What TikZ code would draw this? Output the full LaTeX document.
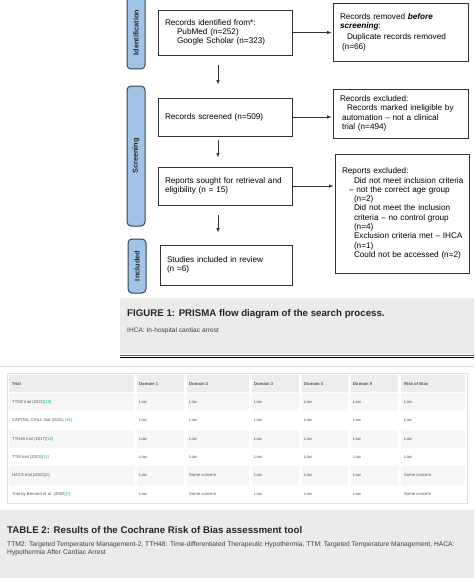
\documentclass[tikz,border=0pt]{standalone}
\usepackage{fontspec}
\setmainfont{Liberation Sans}
\usetikzlibrary{arrows,arrows.meta}
\usetikzlibrary{calc}
\definecolor{phaseblue}{RGB}{160,196,232}
\definecolor{phaseedge}{RGB}{52,66,84}
\definecolor{boxedge}{RGB}{51,51,51}
\definecolor{capgray}{RGB}{235,235,235}
\definecolor{headgray}{RGB}{237,237,237}
\definecolor{rowgray}{RGB}{246,246,246}
\definecolor{rulegray}{RGB}{224,224,224}
\definecolor{celltext}{RGB}{85,85,85}
\definecolor{reflink}{RGB}{40,168,158}
\colorlet{captext}{black!75}

\tikzset{
  prisma/.style={draw=boxedge, line width=0.8pt, align=left, inner xsep=7pt, inner ysep=0pt,
    font=\fontsize{8.2}{9.3}\selectfont},
  phase/.style={draw=phaseedge, fill=phaseblue, line width=1pt, rounded corners=4pt, rotate=90,
    minimum height=18pt, inner sep=0pt, text=black!85, font=\bfseries\fontsize{7.3}{8}\selectfont},
  flow/.style={-latex, line width=0.6pt, boxedge},
  cell/.style={anchor=base west, inner sep=0pt, text=celltext, font=\fontsize{4.2}{5}\selectfont},
  cellhead/.style={cell, font=\bfseries\fontsize{4.2}{5}\selectfont}
}

\begin{document}
\begin{tikzpicture}[x=1pt, y=-1pt]

    \useasboundingbox (0,0) rectangle (474,578);

    \node[phase, minimum width=73pt] (idlabel) at (136,32.5) {Identification};
    \node[phase, minimum width=140pt] (screenlabel) at (136,156) {Screening};
    \node[phase, minimum width=54pt] (incllabel) at (137,266) {Included};

    \node[prisma, text width=120pt, minimum height=45pt] (ident) at (225,32.5)
        {Records identified from*:\\ \hspace*{12pt}PubMed (n=252)\\ \hspace*{12pt}Google Scholar (n=323)};
    \node[prisma, text width=120pt, minimum height=38pt] (screen) at (225,117)
        {Records screened (n=509)};
    \node[prisma, text width=120pt, minimum height=38pt] (sought) at (225,186)
        {Reports sought for retrieval and\\ eligibility (n = 15)};
    \node[prisma, text width=118pt, minimum height=40pt] (incl) at (226,265)
        {Studies included in review\\ (n =6)};

    \node[prisma, text width=121pt, minimum height=58pt] (removed) at (400.5,32)
        {Records removed \textbf{\textit{before}}\\ \textbf{\textit{screening}}:\\[2pt]
         \hspace*{7pt}Duplicate records removed\\ \hspace*{2pt}(n=66)};
    \node[prisma, text width=121pt, minimum height=49pt] (excluded) at (400.5,113.5)
        {Records excluded:\\ \hspace*{7pt}\mbox{Records marked ineligible by}\\
         \hspace*{2pt}\mbox{automation -- not a clinical}\\ \hspace*{2pt}trial (n=494)};
    \node[prisma, text width=120pt, minimum height=119pt] (repexcl) at (402,213.5)
        {Reports excluded:\\ \hspace*{12pt}\mbox{Did not meet inclusion criteria}\\
         \hspace*{7pt}\mbox{-- not the correct age group}\\ \hspace*{12pt}(n=2)\\
         \hspace*{12pt}\mbox{Did not meet the inclusion}\\ \hspace*{12pt}\mbox{criteria -- no control group}\\
         \hspace*{12pt}(n=4)\\ \hspace*{12pt}\mbox{Exclusion criteria met -- IHCA}\\
         \hspace*{12pt}(n=1)\\ \hspace*{12pt}\mbox{Could not be accessed (n=2)}};

    \coordinate (arrowcol) at (218,0);
    \draw[flow, shorten <=10pt, shorten >=13pt] (ident.south -| arrowcol) -- (screen.north -| arrowcol);
    \draw[flow, shorten <=4pt, shorten >=9pt] (screen.south -| arrowcol) -- (sought.north -| arrowcol);
    \draw[flow, shorten <=10pt, shorten >=12pt] (sought.south -| arrowcol) -- (incl.north -| arrowcol);
    \draw[flow, shorten >=1pt] (ident.east) -- (ident.east -| removed.west);
    \draw[flow, shorten >=1pt] (screen.east) -- (screen.east -| excluded.west);
    \draw[flow, shorten >=1pt] (sought.east) -- (sought.east -| repexcl.west);

    \fill[capgray] (120,298) rectangle (474,354);
    \draw[black!65, line width=0.8pt] (120,355) -- (474,355);
    \draw[black, line width=1.2pt] (120,357.5) -- (474,357.5);
    \node[anchor=base west, inner sep=0pt, text=black!85, font=\bfseries\fontsize{9.7}{11}\selectfont]
        (figtitle) at (127,316.5) {FIGURE 1: PRISMA flow diagram of the search process.};
    \node[anchor=base west, inner sep=0pt, text=captext, font=\fontsize{6.6}{8}\selectfont]
        (fignote) at (127,332.5) {IHCA: In-hospital cardiac arrest};

    \draw[rulegray, line width=1pt] (0,366) -- (474,366);

    \draw[rulegray, line width=0.8pt] (7,373) rectangle (467,503);
    \foreach \xa/\xb in {9/134, 137/184, 187/249, 252/299, 302/348, 351/398, 401/465}
        \fill[headgray] (\xa,375) rectangle (\xb,392);
    \node[cellhead] (hdtrial) at (12,385) {Trial};
    \node[cellhead] (hdone) at (139,385) {Domain 1};
    \node[cellhead] (hdtwo) at (189,385) {Domain 2};
    \node[cellhead] (hdthree) at (254,385) {Domain 3};
    \node[cellhead] (hdfour) at (304,385) {Domain 4};
    \node[cellhead] (hdfive) at (353,385) {Domain 5};
    \node[cellhead] (hdbias) at (404,385) {Risk of Bias};

    \foreach \trial/\refno/\dtwo/\bias [count=\r] in {TTM2 trial (2021)/10/Low/Low,
        CAPITAL CHILL trial (2021) /16/Low/Low, TTH48 trial (2017)/12/Low/Low,
        TTM trial (2013)/11/Low/Low, HACA trial (2002)/8/Some concern/Some concern,
        Trial by Bernard et al. (2002)/7/Some concern/Some concern}{
        \pgfmathsetmacro{\rtop}{393+18.3*(\r-1)}
        \ifodd\r
            \foreach \xa/\xb in {9/134, 137/184, 187/249, 252/299, 302/348, 351/398, 401/465}
                \fill[rowgray] (\xa,\rtop) rectangle (\xb,\rtop+18.3);
        \fi
        \node[cell] (trial-\r) at (12,\rtop+10.6) {\trial\textcolor{reflink}{[\refno]}};
        \node[cell] (done-\r) at (139,\rtop+10.6) {Low};
        \node[cell] (dtwo-\r) at (189,\rtop+10.6) {\dtwo};
        \node[cell] (dthree-\r) at (254,\rtop+10.6) {Low};
        \node[cell] (dfour-\r) at (304,\rtop+10.6) {Low};
        \node[cell] (dfive-\r) at (353,\rtop+10.6) {Low};
        \node[cell] (bias-\r) at (404,\rtop+10.6) {\bias};
    }

    \fill[capgray] (0,510) rectangle (474,578);
    \node[anchor=base west, inner sep=0pt, text=black!85, font=\bfseries\fontsize{9.7}{11}\selectfont]
        (tabtitle) at (7,533.5) {TABLE 2: Results of the Cochrane Risk of Bias assessment tool};
    \node[anchor=north west, inner sep=0pt, align=left, text=captext, font=\fontsize{6.7}{8}\selectfont]
        (tabnote) at (7,541.5) {TTM2: Targeted Temperature Management-2, TTH48: Time-differentiated Therapeutic Hypothermia, TTM: Targeted Temperature Management, HACA:\\ Hypothermia After Cardiac Arrest};

\end{tikzpicture}
\end{document}
